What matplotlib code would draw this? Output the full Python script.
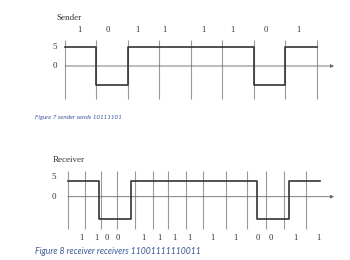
import matplotlib
matplotlib.use("Agg")
import matplotlib.pyplot as plt
import numpy as np

# ---------------- data ----------------
sender_bits = [1, 0, 1, 1, 1, 1, 0, 1]
sender_high, sender_low = 5, -5
sender_label_pos = [0.45, 1.37, 2.29, 3.15, 4.39, 5.31, 6.39, 7.41]

receiver_high, receiver_low = 4, -5.6
receiver_sample_pos = [0, 0.54, 1.05, 1.56, 2.13, 2.70, 3.17, 3.75, 4.29,
                       5.02, 5.68, 6.29, 6.86, 7.56]
receiver_bits = [1, 1, 0, 0, 1, 1, 1, 1, 1, 1, 0, 0, 1, 1]
receiver_label_pos = [0.44, 0.89, 1.24, 1.59, 2.38, 2.89, 3.37, 3.84, 4.60,
                      5.33, 6.03, 6.44, 7.21, 7.94]

y_ticks = [5, 0]
caption1 = "Figure 7 sender sends 10111101"
caption2 = "Figure 8 receiver receivers 11001111110011"

# ---------------- style ----------------
serif = ["Liberation Serif", "DejaVu Serif"]
sig_color = "#333333"
grid_color = "#999999"
axis_color = "#666666"
cap_color = "#3b5a9a"

fig = plt.figure(figsize=(3.5, 2.6), dpi=100)
fig.patch.set_facecolor("white")


def panel(rect, xlim, ylim, bits, high, low, line_pos, line_top, line_bot,
          labels, label_pos, label_y, title, title_x, title_y, tick_x, arrow_end):
    ax = fig.add_axes(rect)
    ax.set_xlim(*xlim)
    ax.set_ylim(*ylim)
    ax.axis("off")
    # sampling / bit boundary lines
    ax.vlines(line_pos, line_bot, line_top, color=grid_color, lw=0.8, zorder=1)
    # zero axis with arrow
    ax.annotate("", xy=(arrow_end, 0), xytext=(0, 0),
                arrowprops=dict(arrowstyle="-|>", color=axis_color, lw=0.6,
                                mutation_scale=5, shrinkA=0, shrinkB=0), zorder=2)
    # waveform
    levels = [high if b else low for b in bits]
    xs = np.arange(len(bits) + 1)
    ys = levels + [levels[-1]]
    ax.step(xs, ys, where="post", color=sig_color, lw=1.2, zorder=3)
    # bit labels
    for lab, p in zip(labels, label_pos):
        ax.text(p, label_y, str(lab), ha="center", va="center",
                fontsize=6.2, family=serif, color="#333333")
    # y labels
    for v in y_ticks:
        ax.text(tick_x, v, str(v), ha="center", va="center",
                fontsize=6.5, family=serif, color="#333333")
    ax.text(title_x, title_y, title, ha="center", va="center",
            fontsize=6.5, family=serif, color="#333333")
    return ax


# top panel: bit 0 at 65 px, bit 8 at 316.7 px ; 0 V at 66 px, 3.87 px/V
sx = (316.7 - 65) / 8
sy = 3.87
panel([0, 0.5, 1, 0.5], (-65 / sx, (350 - 65) / sx), ((66 - 130) / sy, 66 / sy),
      sender_bits, sender_high, sender_low,
      np.arange(len(sender_bits) + 1), (66 - 40) / sy, (66 - 98.5) / sy,
      sender_bits, sender_label_pos, (66 - 30) / sy,
      "Sender", (69.5 - 65) / sx, (66 - 18) / sy, (55 - 65) / sx, (334 - 65) / sx)

# bottom panel: 0 at 68 px, 8 at 320 px ; 0 V at 196.7 px, 4 px/V
rx = (320 - 68) / 8
ry = 4.0
panel([0, 0, 1, 0.5], (-68 / rx, (350 - 68) / rx), ((196.7 - 260) / ry, (196.7 - 130) / ry),
      sender_bits, receiver_high, receiver_low,
      receiver_sample_pos, (196.7 - 170.7) / ry, (196.7 - 229) / ry,
      receiver_bits, receiver_label_pos, (196.7 - 238.5) / ry,
      "Receiver", (69 - 68) / rx, (196.7 - 160) / ry, (53.5 - 68) / rx, (334 - 68) / rx)

fig.text(35 / 350, 1 - 117 / 260, caption1, ha="left", va="center",
         fontsize=4.5, style="italic", family=["Lato", "DejaVu Sans"], color=cap_color)
fig.text(35 / 350, 1 - 251 / 260, caption2, ha="left", va="center",
         fontsize=6.25, style="italic", family=["Lato", "DejaVu Sans"], color=cap_color)

fig.savefig("out.png", dpi=100)
